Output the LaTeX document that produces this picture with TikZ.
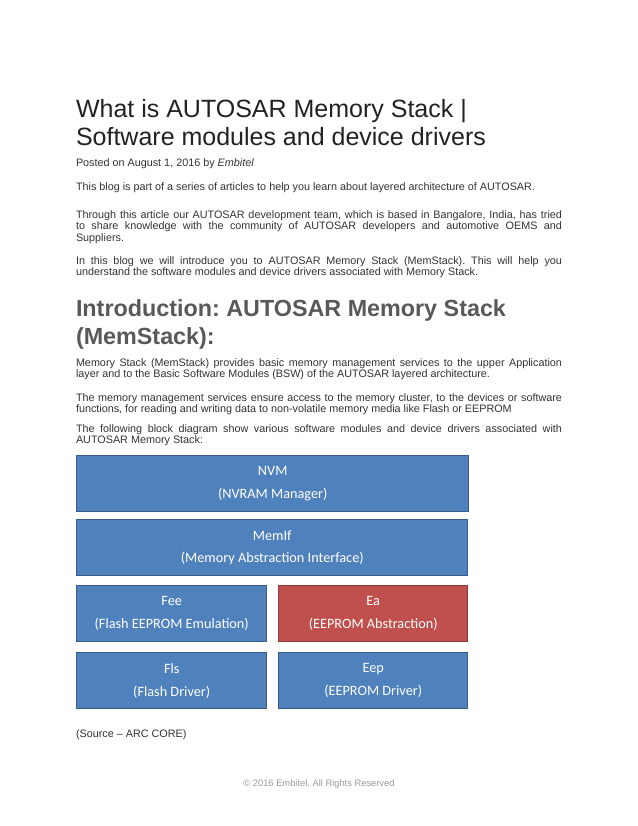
\documentclass[tikz,border=0pt]{standalone}
\usepackage{fontspec}
\setmainfont{Liberation Sans}
\newfontfamily\boxfont{Carlito}
\frenchspacing
\definecolor{bluefill}{HTML}{4F81BD}
\definecolor{blueedge}{HTML}{385D8A}
\definecolor{redfill}{HTML}{C0504D}
\definecolor{rededge}{HTML}{8C3836}
\definecolor{titlecol}{HTML}{222222}
\definecolor{bodycol}{HTML}{333333}
\definecolor{headcol}{HTML}{595959}
\definecolor{footcol}{HTML}{9A9A9A}
\begin{document}
\begin{tikzpicture}[x=0.75pt,y=-0.75pt,
  txt/.style={anchor=base west, inner sep=0pt, outer sep=0pt, text=bodycol},
  para/.style={txt, text width=364.5pt, align=justify, font=\fontsize{8.1pt}{8.8pt}\selectfont},
  blk/.style={draw=blueedge, fill=bluefill, line width=1.1pt, anchor=north west, minimum height=42pt,
    text=white, align=center, inner sep=0pt, font=\boxfont\fontsize{10.7pt}{17.2pt}\selectfont},
  redblk/.style={blk, draw=rededge, fill=redfill}]
\useasboundingbox[fill=white] (0,0) rectangle (638,826);
% title (anchored at the baseline of its last line)
\node[txt, text=titlecol, align=left, font=\fontsize{18.75pt}{21pt}\selectfont] (title) at (76,145)
  {What is AUTOSAR Memory Stack |\\Software modules and device drivers};
\node[txt, font=\fontsize{8.1pt}{8.8pt}\selectfont] (posted) at (76,166)
  {Posted on August 1, 2016 by \textit{Embitel}};
\node[para] (p1) at (76,190)
  {This blog is part of a series of articles to help you learn about layered architecture of AUTOSAR.};
\node[para] (p2) at (76,218)
  {Through this article our AUTOSAR development team, which is based in Bangalore, India, has tried\linebreak to share knowledge with the community of AUTOSAR developers and automotive OEMS and\linebreak Suppliers.};
\node[para] (p3) at (76,264)
  {In this blog we will introduce you to AUTOSAR Memory Stack (MemStack). This will help you\linebreak understand the software modules and device drivers associated with Memory Stack.};
% heading (anchored at the baseline of its last line)
\node[txt, text=headcol, align=left, font=\bfseries\fontsize{17.5pt}{20.3pt}\selectfont] (head) at (76,344)
  {Introduction: AUTOSAR Memory Stack\\(MemStack):};
\node[para] (p4) at (76,366)
  {Memory Stack (MemStack) provides basic memory management services to the upper Application\linebreak layer and to the Basic Software Modules (BSW) of the AUTOSAR layered architecture.};
\node[para] (p5) at (76,401)
  {The memory management services ensure access to the memory cluster, to the devices or software\linebreak functions, for reading and writing data to non-volatile memory media like Flash or EEPROM};
\node[para] (p6) at (76,432)
  {The following block diagram show various software modules and device drivers associated with\linebreak AUTOSAR Memory Stack:};
% blocks
\node[blk, minimum width=294pt] (nvm) at (76,455) {NVM\\(NVRAM Manager)};
\node[blk, minimum width=293.25pt] (memif) at (76,519) {MemIf\\(Memory Abstraction Interface)};
\node[blk, minimum width=142.5pt] (fee) at (76,585) {Fee\\(Flash EEPROM Emulation)};
\node[redblk, minimum width=141.75pt] (ea) at (278,585) {Ea\\(EEPROM Abstraction)};
\node[blk, minimum width=142.5pt] (fls) at (76,652) {Fls\\(Flash Driver)};
\node[blk, minimum width=141.75pt] (eep) at (278,652) {Eep\\(EEPROM Driver)};
% source and footer
\node[txt, font=\fontsize{8.1pt}{8.8pt}\selectfont] (src) at (76,737) {(Source -- ARC CORE)};
\node[txt, anchor=base, text=footcol, font=\fontsize{7pt}{8pt}\selectfont] (foot) at (319,786)
  {\textcopyright{} 2016 Embitel. All Rights Reserved};
\end{tikzpicture}
\end{document}
